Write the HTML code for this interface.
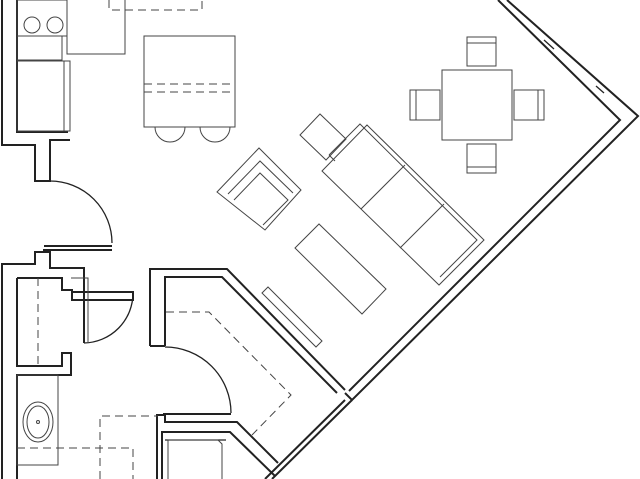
<!DOCTYPE html>
<html><head><style>html,body{margin:0;padding:0;background:#fff}svg{display:block}</style></head>
<body>
<svg width="640" height="479" viewBox="0 0 640 479" xmlns="http://www.w3.org/2000/svg" fill="none" stroke="#222">
<g stroke-width="2">
<polyline points="507,0 638,116 352,400 345,393"/>
<polyline points="498,0 620,120 349,391"/>
<line x1="345" y1="400" x2="265" y2="479"/>
<line x1="352" y1="400" x2="272" y2="479"/>
<polyline points="2,0 2,145 35,145 35,181 50,181 50,140 70,140"/>
<polyline points="17,0 17,132 68,132"/>
<polyline points="44,246 112,246"/>
<polyline points="44,252 44,250 112,250"/>
<polyline points="2,479 2,264 35,264 35,252 50,252 50,268 84,268 84,343"/>
<polyline points="17,278 62,278 62,290 72,290 72,300 133,300 133,292 72,292"/>
<polyline points="17,278 17,366 62,366 62,353 71,353 71,375 17,375 17,479"/>
<polyline points="150,346 150,269 227,269 345,390"/>
<polyline points="165,346 165,277 222,277 337,393"/>
<line x1="150" y1="346" x2="165" y2="346"/>
<polyline points="163,414 231,414"/>
<polyline points="157,479 157,415 165,415 165,422 237,422 278,463"/>
<polyline points="162,479 162,432 230,432 275,476"/>
</g>
<g stroke-width="1.3">
<path d="M50,181 A62,62 0 0 1 112,243"/>
<path d="M84,343 A50,50 0 0 0 133,293"/>
<path d="M165,347 A66,66 0 0 1 231,413"/>
<line x1="544" y1="40" x2="554" y2="49"/>
<line x1="596" y1="86" x2="604" y2="93"/>
<line x1="165" y1="440" x2="226" y2="440"/>
</g>
<g stroke-width="1" stroke="#444">
<rect x="17" y="0" width="50" height="36"/>
<circle cx="32" cy="25" r="8"/><circle cx="55" cy="25" r="8"/>
<rect x="17" y="36" width="45" height="24"/>
<rect x="17" y="61" width="53" height="70"/>
<line x1="64" y1="61" x2="64" y2="131"/>
<polyline points="67,0 67,54 125,54 125,0"/>
<polyline points="109,0 109,10 202,10 202,0" stroke-dasharray="8,5"/>
<rect x="144" y="36" width="91" height="91"/>
<line x1="144" y1="84" x2="235" y2="84" stroke-dasharray="8,5"/>
<line x1="144" y1="92" x2="235" y2="92" stroke-dasharray="8,5"/>
<path d="M155,127 A15,15 0 0 0 185,127"/>
<path d="M200,127 A15,15 0 0 0 230,127"/>
<rect x="442" y="70" width="70" height="70"/>
<rect x="467" y="37" width="29" height="29"/><line x1="467" y1="43" x2="496" y2="43"/>
<rect x="467" y="144" width="29" height="29"/><line x1="467" y1="167" x2="496" y2="167"/>
<rect x="410" y="90" width="30" height="30"/><line x1="416" y1="90" x2="416" y2="120"/>
<rect x="514" y="90" width="30" height="30"/><line x1="538" y1="90" x2="538" y2="120"/>
<polygon points="322,171 367,125 484,240 439,285"/>
<polyline points="329,155 360,124 477,240 446,271"/>
<line x1="329" y1="155" x2="335" y2="161"/><line x1="446" y1="271" x2="440" y2="277"/>
<line x1="361" y1="209" x2="405" y2="165"/>
<line x1="400" y1="248" x2="444" y2="204"/>
<polygon points="300,135 320,114 346,139 326,160"/>
<polygon points="295,248 319,224 386,289 362,314"/>
<polygon points="262,293 268,287 322,341 316,347"/>
<polygon points="217,192 259,148 301,190 265,230"/>
<polyline points="228,194 260,161 293,193"/>
<polyline points="234,200 260,173 288,200 263,225"/>
<line x1="38" y1="278" x2="38" y2="366" stroke-dasharray="8,5"/>
<polyline points="71,278 88,278 88,343"/>
<rect x="17" y="375" width="41" height="90"/>
<ellipse cx="38" cy="422" rx="15" ry="20"/><ellipse cx="38" cy="422" rx="11" ry="16"/>
<circle cx="38" cy="422" r="1.5"/>
<polyline points="100,479 100,416 158,416" stroke-dasharray="8,5"/>
<polyline points="17,448 133,448 133,479" stroke-dasharray="8,5"/>
<polyline points="166,312 209,312 291,395 252,435" stroke-dasharray="8,5"/>
<polyline points="168,479 168,440 218,440 222,444 222,479"/>
</g>
</svg>
</body></html>
